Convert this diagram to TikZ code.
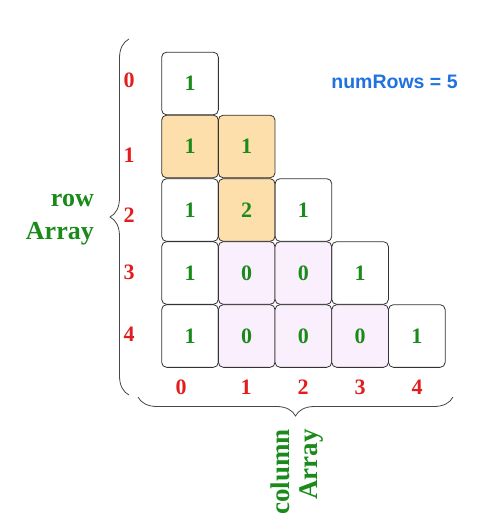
\documentclass[tikz,border=0pt]{standalone}
\usepackage{fontspec}
\setmainfont{Liberation Serif}
\newfontfamily\labsans{Liberation Sans}
\usetikzlibrary{decorations.pathreplacing}
\definecolor{cgreen}{HTML}{1A8A1A}
\definecolor{cred}{HTML}{E21D1D}
\definecolor{cblue}{HTML}{1F72E0}
\definecolor{corange}{HTML}{FDDFAB}
\definecolor{clav}{HTML}{F9EFFD}
\definecolor{cedge}{HTML}{333333}
\tikzset{
  cell/.style={draw=cedge, line width=0.8pt, rounded corners=5pt, minimum width=56.7pt, minimum height=62.7pt, inner sep=0pt, font=\fontsize{22}{26}\selectfont\bfseries, text=cgreen},
  hot/.style={fill=corange},
  zero/.style={fill=clav},
  idx/.style={font=\fontsize{22}{26}\selectfont\bfseries, text=cred, inner sep=0pt},
  bracestyle/.style={draw=cedge!90, line width=0.8pt, decorate, decoration={brace, amplitude=19pt}},
  axlabel/.style={font=\fontsize{26}{33}\selectfont\bfseries, text=cgreen, inner sep=0pt}
}
\begin{document}
\begin{tikzpicture}[x=1pt,y=-1pt]
\useasboundingbox (0,0) rectangle (499,520);
% cells
\node[cell] (c00) at (190,83.5) {1};
\node[cell,hot] (c10) at (190,146.5) {1};
\node[cell,hot] (c11) at (246.7,146.5) {1};
\node[cell] (c20) at (190,210) {1};
\node[cell,hot] (c21) at (246.7,210) {2};
\node[cell] (c22) at (303.4,210) {1};
\node[cell] (c30) at (190,273) {1};
\node[cell,zero] (c31) at (246.7,273) {0};
\node[cell,zero] (c32) at (303.4,273) {0};
\node[cell] (c33) at (360.1,273) {1};
\node[cell] (c40) at (190,336) {1};
\node[cell,zero] (c41) at (246.7,336) {0};
\node[cell,zero] (c42) at (303.4,336) {0};
\node[cell,zero] (c43) at (360.1,336) {0};
\node[cell] (c44) at (416.8,336) {1};
% row indices
\node[idx] (r0) at (129,80) {0};
\node[idx] (r1) at (129,155) {1};
\node[idx] (r2) at (129,215) {2};
\node[idx] (r3) at (129,272) {3};
\node[idx] (r4) at (129,334) {4};
% column indices
\node[idx] (k0) at (181,387) {0};
\node[idx] (k1) at (246,387) {1};
\node[idx] (k2) at (303,387) {2};
\node[idx] (k3) at (360,387) {3};
\node[idx] (k4) at (417,387) {4};
% braces
\coordinate (lb1) at (129,395);
\coordinate (lb2) at (129,39);
\draw[bracestyle] (lb1) -- (lb2);
\coordinate (bb1) at (453,397);
\coordinate (bb2) at (138,397);
\draw[bracestyle] (bb1) -- (bb2);
% labels
\node[axlabel, align=right, anchor=east] (rowlab) at (94,220) {row\\Array};
\node[axlabel, align=right, anchor=east, rotate=90, font=\fontsize{27}{28}\selectfont\bfseries] (collab) at (297,429) {column\\Array};
\node[font=\fontsize{19.5}{23}\selectfont\labsans\bfseries, text=cblue, inner sep=0pt] (num) at (394.5,82) {numRows = 5};
\end{tikzpicture}
\end{document}
